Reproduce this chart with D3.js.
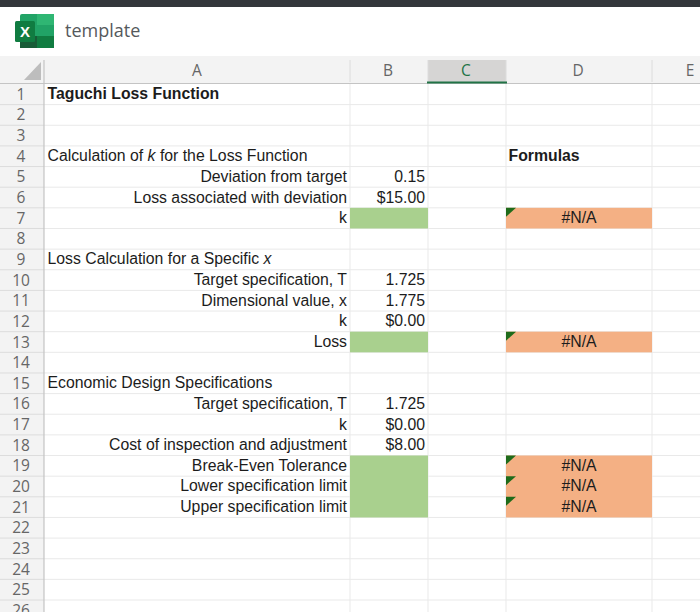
<!DOCTYPE html>
<html>
<head>
<meta charset="utf-8">
<script src="https://cdn.jsdelivr.net/npm/d3@7"></script>
<style>
  html, body { margin: 0; padding: 0; background: #fff; overflow: hidden; }
  text { font-family: "Liberation Sans", Arial, sans-serif; font-size: 15.8px; fill: #1c1c1c; }
  .hdr { font-family: "Open Sans", sans-serif; font-size: 15.5px; fill: #666; }
</style>
</head>
<body>
<div id="sheet"></div>
<script>
// Sheet contents
const columns = ['A', 'B', 'C', 'D', 'E'];
const columnEdges = [44, 350, 428, 506, 652];
const columnCentres = [197, 388, 466, 578, 690];
const rowNumbers = d3.range(1, 27);

// [row, text, style]
const titleCells = [
  [1, 'Taguchi Loss Function', 'bold'],
  [4, 'Calculation of |k| for the Loss Function', ''],
  [9, 'Loss Calculation for a Specific |x|', ''],
  [15, 'Economic Design Specifications', '']
];
const labelCells = [
  [5, 'Deviation from target'],
  [6, 'Loss associated with deviation'],
  [7, 'k'],
  [10, 'Target specification, T'],
  [11, 'Dimensional value, x'],
  [12, 'k'],
  [13, 'Loss'],
  [16, 'Target specification, T'],
  [17, 'k'],
  [18, 'Cost of inspection and adjustment'],
  [19, 'Break-Even Tolerance'],
  [20, 'Lower specification limit'],
  [21, 'Upper specification limit']
];
const valueCells = [
  [5, '0.15'], [6, '$15.00'],
  [10, '1.725'], [11, '1.775'], [12, '$0.00'],
  [16, '1.725'], [17, '$0.00'], [18, '$8.00']
];
// first and last row of each coloured block
const fillBlocks = [[7, 7], [13, 13], [19, 21]];
const formulaRows = [7, 13, 19, 20, 21];

const width = 700, height = 612;
const svg = d3.select('#sheet').append('svg')
  .attr('width', width).attr('height', height)
  .style('display', 'block');

// row n spans y(n)..y(n+1)
const y = d3.scaleLinear().domain([1, 26]).range([84, 600]);
const x = d3.scaleOrdinal().domain(columns).range(columnEdges);
const xMid = d3.scaleOrdinal().domain(columns).range(columnCentres);
const midY = r => (y(r) + y(r + 1)) / 2;

// Window bar and title
svg.append('rect').attr('width', width).attr('height', 7).attr('fill', '#33373b');
const icon = svg.append('g');
icon.append('rect').attr('x', 20).attr('y', 14).attr('width', 34).attr('height', 34).attr('rx', 2).attr('fill', '#21a366');
icon.append('rect').attr('x', 37).attr('y', 14).attr('width', 17).attr('height', 11).attr('fill', '#2fb673');
icon.append('rect').attr('x', 37).attr('y', 36).attr('width', 17).attr('height', 12).attr('fill', '#107c41');
icon.append('rect').attr('x', 20).attr('y', 36).attr('width', 17).attr('height', 12).attr('fill', '#185c37');
icon.append('rect').attr('x', 15).attr('y', 21).attr('width', 20).attr('height', 21).attr('rx', 1.5).attr('fill', '#107c41');
icon.append('text').attr('x', 25).attr('y', 37).attr('text-anchor', 'middle')
  .style('font-size', '15px').style('font-weight', 'bold').style('fill', '#fff').text('X');
svg.append('text').attr('x', 65).attr('y', 37)
  .style('font-family', '"Open Sans", sans-serif').style('font-size', '18px').style('fill', '#55595c')
  .text('template');

// Header backgrounds
svg.append('rect').attr('x', 0).attr('y', 56).attr('width', width).attr('height', 28).attr('fill', '#f3f3f3');
svg.append('rect').attr('x', 0).attr('y', 84).attr('width', 44).attr('height', height - 84).attr('fill', '#f3f3f3');
svg.append('path').attr('d', 'M24 80 L41 80 L41 62 Z').attr('fill', '#bdbdbd');
svg.append('rect').attr('x', x('C')).attr('y', 60).attr('width', x('D') - x('C')).attr('height', 22).attr('fill', '#d6d5d4');

// Gridlines
const gridRows = rowNumbers.filter(r => r > 1);
svg.selectAll('.rowline').data(gridRows).enter().append('line')
  .attr('x1', 44).attr('x2', width)
  .attr('y1', d => y(d)).attr('y2', d => y(d))
  .attr('stroke', '#e9e9e9');
svg.selectAll('.rowtick').data(gridRows).enter().append('line')
  .attr('x1', 0).attr('x2', 44)
  .attr('y1', d => y(d)).attr('y2', d => y(d))
  .attr('stroke', '#dcdcdc');
svg.selectAll('.colline').data(columns.slice(1)).enter().append('line')
  .attr('x1', d => x(d)).attr('x2', d => x(d))
  .attr('y1', 84).attr('y2', height)
  .attr('stroke', '#e9e9e9');
svg.selectAll('.coltick').data(columns.slice(1)).enter().append('line')
  .attr('x1', d => x(d)).attr('x2', d => x(d))
  .attr('y1', 60).attr('y2', 82)
  .attr('stroke', '#dcdcdc');

// Fills go over the gridlines
svg.selectAll('.green').data(fillBlocks).enter().append('rect')
  .attr('x', x('B')).attr('y', d => y(d[0])).attr('width', x('C') - x('B')).attr('height', d => y(d[1] + 1) - y(d[0]))
  .attr('fill', '#a9d08e');
svg.selectAll('.orange').data(fillBlocks).enter().append('rect')
  .attr('x', x('D')).attr('y', d => y(d[0])).attr('width', x('E') - x('D')).attr('height', d => y(d[1] + 1) - y(d[0]))
  .attr('fill', '#f4b084');

// Header borders
svg.append('line').attr('x1', 44).attr('x2', 44).attr('y1', 60).attr('y2', height).attr('stroke', '#c4c4c4').attr('stroke-width', 1.2);
svg.append('line').attr('x1', 0).attr('x2', width).attr('y1', 83.5).attr('y2', 83.5).attr('stroke', '#c4c4c4').attr('stroke-width', 1.2);
svg.append('line').attr('x1', x('C') - 1).attr('x2', x('D') + 1).attr('y1', 82.5).attr('y2', 82.5).attr('stroke', '#217346').attr('stroke-width', 2);

// Column and row headers
svg.selectAll('.colhead').data(columns).enter().append('text')
  .attr('class', 'hdr').attr('text-anchor', 'middle')
  .attr('x', d => xMid(d))
  .attr('y', 76)
  .style('fill', d => d === 'C' ? '#217346' : '#666')
  .text(d => d);
svg.selectAll('.rowhead').data(rowNumbers).enter().append('text')
  .attr('class', 'hdr').attr('text-anchor', 'middle')
  .attr('x', 21).attr('y', d => midY(d) + 5.5)
  .text(d => d);

// Left aligned section titles, |..| marks italic
titleCells.forEach(([row, str, style]) => {
  const t = svg.append('text').attr('x', 47.5).attr('y', midY(row) + 5)
    .style('font-weight', style === 'bold' ? 'bold' : 'normal');
  str.split('|').forEach((part, i) => {
    t.append('tspan').style('font-style', i % 2 ? 'italic' : 'normal').text(part);
  });
});

svg.selectAll('.label').data(labelCells).enter().append('text')
  .attr('text-anchor', 'end').attr('x', 347).attr('y', d => midY(d[0]) + 5)
  .text(d => d[1]);
svg.selectAll('.value').data(valueCells).enter().append('text')
  .attr('text-anchor', 'end').attr('x', 425).attr('y', d => midY(d[0]) + 5)
  .text(d => d[1]);

svg.append('text').attr('x', 508.5).attr('y', midY(4) + 5)
  .style('font-weight', 'bold').text('Formulas');

svg.selectAll('.na').data(formulaRows).enter().append('text')
  .attr('text-anchor', 'middle').attr('x', (x('D') + x('E')) / 2).attr('y', d => midY(d) + 5)
  .text('#N/A');

// Green error triangles
svg.selectAll('.err').data(formulaRows).enter().append('path')
  .attr('d', d => `M${x('D')} ${y(d)} h10 l-10 9 Z`)
  .attr('fill', '#1f6b1a');
</script>
</body>
</html>
